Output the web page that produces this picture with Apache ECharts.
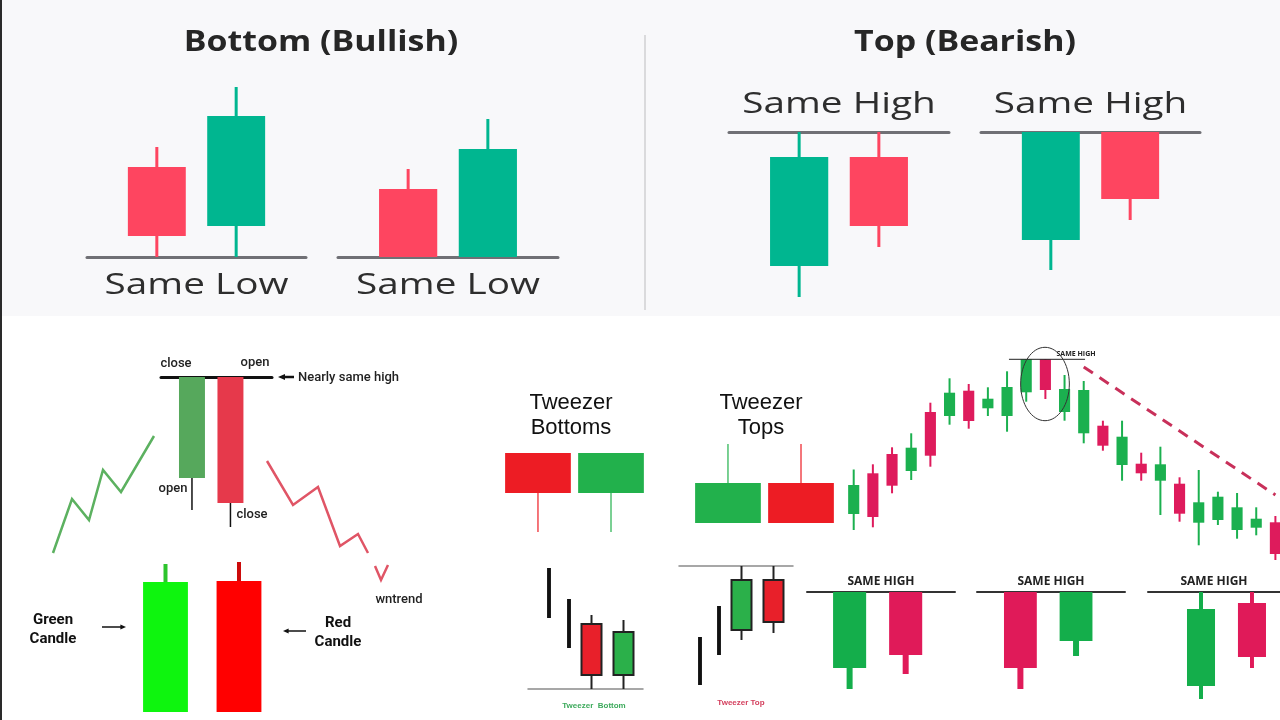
<!DOCTYPE html>
<html><head><meta charset="utf-8">
<script src="https://cdn.jsdelivr.net/npm/echarts@6/dist/echarts.min.js"></script>
<style>html,body{margin:0;padding:0;background:#fff}#c{width:1280px;height:720px}</style>
</head><body><div id="c"></div>
<script>
// ---------- DATA: candles are [x, open, close, low, high] ----------
const bullGroup1 = [[0, 90, 21, 0, 110], [1, 31, 141, 0, 170]];
const bullGroup2 = [[0, 68, 0, 0, 88], [1, 0, 108, 0, 138]];
const bearGroup1 = [[0, 36, 145, 5, 170], [1, 145, 76, 55, 170]];
const bearGroup2 = [[0, 62, 170, 32, 170], [1, 170, 103, 82, 170]];

const nearlyHighPair = [[0, 49, 150, 17, 150], [1, 150, 24, 0, 150]];
const upTrend = [[13, 47], [32, 101], [49, 80], [63, 130], [81, 108], [114, 164]];
const downTrend = [[227, 139], [253, 95], [278, 113], [300, 54], [318, 66], [328, 47]];
const downArrowHead = [[335, 34], [341, 20], [348, 35]];
const brightCandles = [[0, 8, 138, 8, 156], [1, 139, 8, 8, 158]];

const tweezerBottoms = [[0, 87, 47, 8, 87], [1, 47, 87, 8, 87]];
const tweezerTops = [[0, 17, 57, 17, 96], [1, 57, 17, 17, 96]];
const smallBottomBars = [[21, 121, 71, 71, 121], [41, 90, 41, 41, 90]];
const smallBottomCandles = [[63.5, 65, 14, 0, 74], [95.5, 14, 57, 0, 69]];
const smallTopBars = [[21, 15, 63, 15, 63], [40, 45, 94, 45, 94]];
const smallTopCandles = [[62.5, 70, 120, 60, 134], [94.5, 120, 78, 67, 134]];

const trendCandles = [
  [0, 56, 85, 40, 100.5], [1, 96.7, 53, 42.7, 105.7], [2, 116, 84.3, 76.7, 122.7],
  [3, 99, 122.3, 90, 136.7], [4, 158, 114.3, 103.3, 167.3], [5, 154, 177.3, 145.3, 191.7],
  [6, 179.3, 149, 141.3, 186], [7, 161.7, 171.3, 154, 182.7], [8, 154, 183, 138.3, 198.7],
  [9, 177.7, 210.7, 168.3, 210.7], [10, 210.7, 180, 171, 210.7], [11, 158, 181, 149.3, 195],
  [12, 136.7, 180, 126.7, 189], [13, 144.3, 124.3, 119.3, 149.3], [14, 105, 133.3, 89.3, 149.3],
  [15, 106.3, 96.7, 89.3, 117.3], [16, 89.3, 105.7, 55, 123.3], [17, 86.3, 56.3, 48.3, 92.7],
  [18, 47.3, 67.7, 24.7, 100], [19, 50, 73.3, 45, 78.3], [20, 40, 62.7, 31.3, 77],
  [21, 42.3, 51.3, 34.7, 62.7], [22, 47.7, 16, 10, 54]
];
const sameHighLevel = [[8.1, 210.7], [12.07, 210.7]];
const resistanceLine = [[12, 203], [22, 75]];

const sameHighA = [[0, 34, 110, 13, 110], [1, 110, 47, 28, 110]];
const sameHighB = [[0, 110, 34, 13, 110], [1, 61, 110, 46, 110]];
const sameHighC = [[0, 16, 93, 3, 110], [1, 99, 45, 34, 110]];

const titles = ['Bottom (Bullish)', 'Top (Bearish)'];
const lowLabel = 'Same Low', highLabel = 'Same High', capsHigh = 'SAME HIGH';

// ---------- BUILD ----------
const grids = [], xAxes = [], yAxes = [], series = [];
function panel(g, xr, yr, xAxisLine) {
  const i = grids.length;
  grids.push({left: g[0], top: g[1], width: g[2], height: g[3], containLabel: false});
  const xa = {type: 'value', gridIndex: i, min: xr[0], max: xr[1], show: false};
  if (xAxisLine) {
    Object.assign(xa, {
      show: true, position: xAxisLine.position,
      axisLine: {show: true, onZero: false, lineStyle: {color: xAxisLine.color, width: xAxisLine.width}},
      axisTick: {show: false}, axisLabel: {show: false}, splitLine: {show: false},
      name: xAxisLine.name || '', nameLocation: 'middle', nameGap: xAxisLine.gap || 0,
      nameTextStyle: xAxisLine.text || {}
    });
  }
  xAxes.push(xa);
  yAxes.push({type: 'value', gridIndex: i, min: yr[0], max: yr[1], show: false});
  return i;
}
function candleSeries(gi, data, st) {
  series.push({
    type: 'custom', xAxisIndex: gi, yAxisIndex: gi, data: data, silent: true, clip: false,
    encode: {x: 0, y: [1, 2, 3, 4]},
    renderItem: function (params, api) {
      const x = api.value(0), o = api.value(1), c = api.value(2), lo = api.value(3), hi = api.value(4);
      const up = c >= o;
      const col = up ? st.up : st.down;
      const wc = st.wick ? (typeof st.wick === 'string' ? st.wick : (up ? st.wick[0] : st.wick[1])) : col;
      const pO = api.coord([x, o]), pC = api.coord([x, c]), pL = api.coord([x, lo]), pH = api.coord([x, hi]);
      const bw = api.size([st.bodyW, 0])[0];
      const ww = st.wickW;
      const t = Math.min(pO[1], pC[1]), b = Math.max(pO[1], pC[1]);
      return {type: 'group', children: [
        {type: 'rect', shape: {x: pH[0] - ww / 2, y: pH[1], width: ww, height: pL[1] - pH[1]}, style: {fill: wc}},
        {type: 'rect', shape: {x: pO[0] - bw / 2, y: t, width: bw, height: Math.max(b - t, 1)},
          style: {fill: col, stroke: st.border || null, lineWidth: st.border ? st.borderW : 0}}
      ]};
    }
  });
}
function lineSeries(gi, data, color, width, dash) {
  series.push({type: 'line', xAxisIndex: gi, yAxisIndex: gi, data: data, symbol: 'none', silent: true,
    lineStyle: {color: color, width: width, type: dash || 'solid', cap: 'butt', join: 'miter'}});
}

const FONT = "'Open Sans', 'Noto Sans', sans-serif";
const topStyle = {up: '#00b690', down: '#fe4560', bodyW: 0.73, wickW: 3};
const lowAxis = {position: 'bottom', color: '#707075', width: 3};
const highAxis = {position: 'top', color: '#707075', width: 3};

const gB1 = panel([87, 77, 219, 180], [-0.88, 1.88], [0, 180], lowAxis); candleSeries(gB1, bullGroup1, topStyle);
const gB2 = panel([338, 77, 220, 180], [-0.88, 1.88], [0, 180], lowAxis); candleSeries(gB2, bullGroup2, topStyle);
const gT1 = panel([729, 132, 220, 170], [-0.88, 1.88], [0, 170], highAxis); candleSeries(gT1, bearGroup1, topStyle);
const gT2 = panel([981, 132, 219, 170], [-0.88, 1.88], [0, 170], highAxis); candleSeries(gT2, bearGroup2, topStyle);

// bottom-left
let g = panel([161, 377, 111, 150], [-0.805, 2.08], [0, 150], {position: 'top', color: '#111', width: 3});
candleSeries(g, nearlyHighPair, {up: '#56a85c', down: '#e6394b', wick: '#111', bodyW: 0.675, wickW: 1.5});
g = panel([40, 420, 360, 180], [0, 360], [0, 180]);
lineSeries(g, upTrend, '#5cb160', 2.5);
lineSeries(g, downTrend, '#e05566', 2.5);
lineSeries(g, downArrowHead, '#e05566', 2.5);
g = panel([130, 540, 145, 180], [-0.483, 1.49], [0, 180]);
candleSeries(g, brightCandles, {up: '#0ef50e', down: '#ff0000', wick: ['#2cc42c', '#cc0a0a'], bodyW: 0.61, wickW: 4});

// middle
g = panel([500, 440, 150, 100], [-0.52, 1.534], [0, 100]);
candleSeries(g, tweezerBottoms, {up: '#22b14c', down: '#ed1c24', bodyW: 0.9, wickW: 1.2});
g = panel([690, 440, 150, 100], [-0.52, 1.534], [0, 100]);
candleSeries(g, tweezerTops, {up: '#22b14c', down: '#ed1c24', bodyW: 0.9, wickW: 1.2});
g = panel([528, 560, 115, 129], [0, 115], [0, 129], {position: 'bottom', color: '#8a8a8a', width: 1.5});
candleSeries(g, smallBottomBars, {up: '#111', down: '#111', bodyW: 3.5, wickW: 3.5});
candleSeries(g, smallBottomCandles, {up: '#2bb04a', down: '#e8202a', wick: '#222', border: '#222', borderW: 2, bodyW: 20, wickW: 2});
g = panel([679, 566, 114, 134], [0, 114], [0, 134], {position: 'top', color: '#8a8a8a', width: 1.5});
candleSeries(g, smallTopBars, {up: '#111', down: '#111', bodyW: 3.5, wickW: 3.5});
candleSeries(g, smallTopCandles, {up: '#2bb04a', down: '#e8202a', wick: '#222', border: '#222', borderW: 2, bodyW: 20, wickW: 2});

// right trend chart
const gBig = panel([840, 330, 440, 240], [-0.715, 22.24], [0, 240]);
candleSeries(gBig, trendCandles, {up: '#1bb04f', down: '#de1b5c', bodyW: 0.58, wickW: 2});
lineSeries(gBig, sameHighLevel, '#222', 1);
lineSeries(gBig, resistanceLine, '#c8305a', 3, [11, 8]);

// bottom-right same high panels
const capsAxis = {position: 'top', color: '#333', width: 2, name: capsHigh, gap: 4,
  text: {fontSize: 12, fontWeight: 'bold', color: '#222', fontFamily: FONT}};
const shStyle = {up: '#14ae4b', down: '#e01a59', bodyW: 0.59, wickW: 6};
g = panel([807, 592, 148, 110], [-0.76, 1.88], [0, 110], capsAxis); candleSeries(g, sameHighA, shStyle);
g = panel([977, 592, 148, 110], [-0.78, 1.88], [0, 110], capsAxis); candleSeries(g, sameHighB, shStyle);
g = panel([1148, 592, 132, 110], [-1.04, 1.55], [0, 110], capsAxis);
candleSeries(g, sameHighC, {up: '#14ae4b', down: '#e01a59', bodyW: 0.55, wickW: 4});

// ---------- GRAPHICS (annotations) ----------
function txt(t, x, y, font, fill, align, lh) {
  return {type: 'text', z: 50, style: {text: t, x: x, y: y, font: font, fill: fill, align: align || 'center', verticalAlign: 'middle', lineHeight: lh}};
}
function wideTxt(t, x, y, font, fill, sx) {
  return {type: 'text', z: 50, x: x, y: y, scaleX: sx, style: {text: t, x: 0, y: 0, font: font, fill: fill, align: 'center', verticalAlign: 'middle'}};
}
function arrow(x1, x2, y, color, w, head) {
  const dir = x2 > x1 ? 1 : -1;
  return [
    {type: 'line', z: 50, shape: {x1: x1, y1: y, x2: x2 - dir * head, y2: y}, style: {stroke: color, lineWidth: w}},
    {type: 'polygon', z: 50, shape: {points: [[x2, y], [x2 - dir * head * 1.4, y - head * 0.6], [x2 - dir * head * 1.4, y + head * 0.6]]}, style: {fill: color}}
  ];
}
const RB = "500 13px Roboto, 'Noto Sans', sans-serif";
const graphics = [
  {type: 'rect', z: -10, shape: {x: 0, y: 0, width: 1280, height: 316}, style: {fill: '#f8f8fa'}},
  {type: 'rect', z: 60, shape: {x: 0, y: 0, width: 2, height: 720}, style: {fill: '#2a2a2a'}},
  {type: 'line', z: 0, shape: {x1: 645, y1: 35, x2: 645, y2: 310}, style: {stroke: '#dadadc', lineWidth: 2}},
  wideTxt(titles[0], 321, 43, "bold 28px " + FONT, '#262626', 1.21),
  wideTxt(titles[1], 965, 43, "bold 28px " + FONT, '#262626', 1.21),
  txt('close', 176, 364, RB, '#222'),
  txt('open', 255, 363, RB, '#222'),
  txt('Nearly same high', 298, 378, RB, '#222', 'left'),
  txt('open', 173, 489, RB, '#222'),
  txt('close', 252, 515, RB, '#222'),
  txt('wntrend', 399, 600, RB, '#222'),
  txt('Green\nCandle', 53, 630, "bold 15px Roboto, sans-serif", '#111', 'center', 19),
  txt('Red\nCandle', 338, 633, "bold 15px Roboto, sans-serif", '#111', 'center', 19),
  txt('Tweezer\nBottoms', 571, 415, "22px 'Liberation Sans', Arial, sans-serif", '#111', 'center', 25),
  txt('Tweezer\nTops', 761, 415, "22px 'Liberation Sans', Arial, sans-serif", '#111', 'center', 25),
  txt('Tweezer  Bottom', 594, 706, "bold 8px 'Liberation Sans', sans-serif", '#3daa5c'),
  txt('Tweezer Top', 741, 703, "bold 8px 'Liberation Sans', sans-serif", '#d4405e')
].concat(arrow(294, 278, 377, '#111', 2.5, 5), arrow(102, 126, 627, '#111', 1.5, 4), arrow(306, 283, 631, '#111', 1.5, 4));

const chart = echarts.init(document.getElementById('c'));
chart.setOption({
  animation: false, backgroundColor: '#ffffff',
  grid: grids, xAxis: xAxes, yAxis: yAxes, series: series, graphic: graphics
});
// labels bound to each panel's reference line (centre of the axis)
function axisMid(gi, yv, dy) {
  const a = chart.convertToPixel({gridIndex: gi}, [-0.88, yv]);
  const b = chart.convertToPixel({gridIndex: gi}, [1.88, yv]);
  return [(a[0] + b[0]) / 2, a[1] + dy];
}
[[gB1, 0, 28, lowLabel], [gB2, 0, 28, lowLabel], [gT1, 170, -28, highLabel], [gT2, 170, -28, highLabel]].forEach(function (d) {
  const p = axisMid(d[0], d[1], d[2]);
  graphics.push(wideTxt(d[3], p[0], p[1], "30px " + FONT, '#2e2e2e', 1.29));
});
// annotations bound to the trend chart's data space
const cen = chart.convertToPixel({gridIndex: gBig}, [9.98, 186]);
const edge = chart.convertToPixel({gridIndex: gBig}, [11.25, 222.7]);
const lab = chart.convertToPixel({gridIndex: gBig}, [11.6, 216]);
graphics.push(
  {type: 'ellipse', z: 50, shape: {cx: cen[0], cy: cen[1], rx: edge[0] - cen[0], ry: cen[1] - edge[1]}, style: {fill: 'none', stroke: '#333', lineWidth: 1}},
  txt(capsHigh, lab[0], lab[1], "bold 7px 'Open Sans', sans-serif", '#222')
);
chart.setOption({graphic: graphics});
</script></body></html>
